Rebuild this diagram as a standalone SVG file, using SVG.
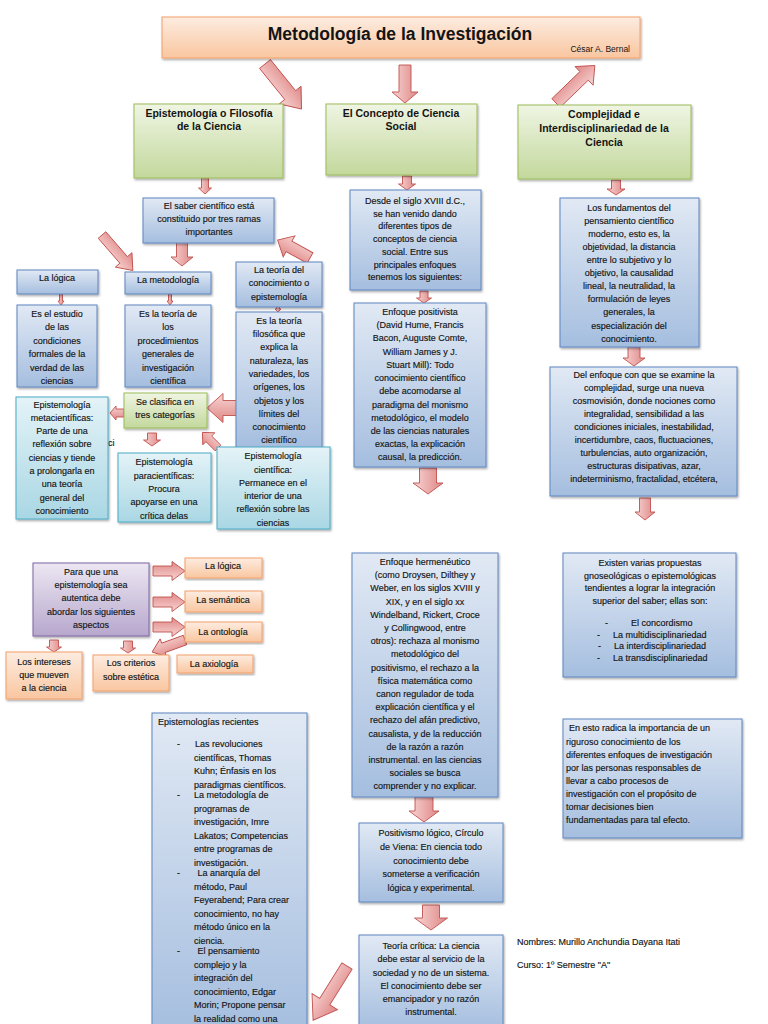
<svg xmlns="http://www.w3.org/2000/svg" width="768" height="1024" viewBox="0 0 768 1024">
<defs>
<linearGradient id="gBlue" x1="0" y1="0" x2="0" y2="1"><stop offset="0" stop-color="#e1e9f4"/><stop offset="1" stop-color="#a5bedf"/></linearGradient>
<linearGradient id="gGreen" x1="0" y1="0" x2="0" y2="1"><stop offset="0" stop-color="#eff5e3"/><stop offset="1" stop-color="#c3d89c"/></linearGradient>
<linearGradient id="gOrange" x1="0" y1="0" x2="0" y2="1"><stop offset="0" stop-color="#fdece0"/><stop offset="1" stop-color="#f9c6a0"/></linearGradient>
<linearGradient id="gAqua" x1="0" y1="0" x2="0" y2="1"><stop offset="0" stop-color="#e4f3f7"/><stop offset="1" stop-color="#a9d7e4"/></linearGradient>
<linearGradient id="gPurple" x1="0" y1="0" x2="0" y2="1"><stop offset="0" stop-color="#ece7f2"/><stop offset="1" stop-color="#b7a7cd"/></linearGradient>
<linearGradient id="gArr" x1="0" y1="0" x2="1" y2="0"><stop offset="0" stop-color="#f7d5d4"/><stop offset="1" stop-color="#df8785"/></linearGradient>
<filter id="sh" x="-10%" y="-10%" width="125%" height="125%"><feDropShadow dx="1" dy="1.5" stdDeviation="0.8" flood-color="#000" flood-opacity="0.35"/></filter>
</defs>
<style>
text{font-family:"Liberation Sans",Arial,sans-serif;font-size:9px;fill:#141414;stroke:#141414;stroke-width:0.15}
.c{text-anchor:middle}
.b{font-weight:bold;stroke-width:0}
.blue{fill:url(#gBlue);stroke:#5f86bf;stroke-width:1;filter:url(#sh)}
.green{fill:url(#gGreen);stroke:#9bbb59;stroke-width:1;filter:url(#sh)}
.orange{fill:url(#gOrange);stroke:#f4a06a;stroke-width:1;filter:url(#sh)}
.aqua{fill:url(#gAqua);stroke:#4bacc6;stroke-width:1;filter:url(#sh)}
.purple{fill:url(#gPurple);stroke:#8064a2;stroke-width:1;filter:url(#sh)}
.arr{fill:url(#gArr);stroke:#c0504d;stroke-width:0.9;stroke-linejoin:miter}
</style>
<rect width="768" height="1024" fill="#ffffff"/>

<g id="connectors">
<polygon class="arr" transform="translate(265,64) rotate(-39)" points="-7,0 7,0 7,40 14,40 0,58 -14,40 -7,40"/>
<polygon class="arr" transform="translate(405,65)" points="-6,0 6,0 6,27 13,27 0,38 -13,27 -6,27"/>
<polygon class="arr" transform="translate(556,103) rotate(-134)" points="-6,0 6,0 6,39 13,39 0,54 -13,39 -6,39"/>
<polygon class="arr" transform="translate(205,178)" points="-3.5,0 3.5,0 3.5,10 6.5,10 0,16 -6.5,10 -3.5,10"/>
<polygon class="arr" transform="translate(182,240)" points="-5.5,0 5.5,0 5.5,17 11,17 0,26 -11,17 -5.5,17"/>
<polygon class="arr" transform="translate(102,235) rotate(-41)" points="-5,0 5,0 5,33 11,33 0,47 -11,33 -5,33"/>
<polygon class="arr" transform="translate(310,258) rotate(119)" points="-6,0 6,0 6,24 12,24 0,37 -12,24 -6,24"/>
<polygon class="arr" transform="translate(61,294)" points="-1.5,0 1.5,0 1.5,7 3,7 0,11 -3,7 -1.5,7"/>
<polygon class="arr" transform="translate(170,294)" points="-1.5,0 1.5,0 1.5,7 3,7 0,11 -3,7 -1.5,7"/>
<polygon class="arr" transform="translate(278,306)" points="-1.5,0 1.5,0 1.5,3 3,3 0,6 -3,3 -1.5,3"/>
<polygon class="arr" transform="translate(238,408) rotate(90)" points="-7.5,0 7.5,0 7.5,15 14.5,15 0,31 -14.5,15 -7.5,15"/>
<polygon class="arr" transform="translate(124,413) rotate(90)" points="-4,0 4,0 4,8 7,8 0,14 -7,8 -4,8"/>
<polygon class="arr" transform="translate(152,433)" points="-4.5,0 4.5,0 4.5,7 8.5,7 0,13 -8.5,7 -4.5,7"/>
<polygon class="arr" transform="translate(218,448) rotate(135)" points="-4,0 4,0 4,13 8.5,13 0,22 -8.5,13 -4,13"/>
<polygon class="arr" transform="translate(407,176)" points="-4.5,0 4.5,0 4.5,8 8.5,8 0,14 -8.5,8 -4.5,8"/>
<polygon class="arr" transform="translate(424,291)" points="-4,0 4,0 4,7 7.5,7 0,12 -7.5,7 -4,7"/>
<polygon class="arr" transform="translate(428,468)" points="-8.5,0 8.5,0 8.5,15 15,15 0,26 -15,15 -8.5,15"/>
<polygon class="arr" transform="translate(424,797)" points="-9,0 9,0 9,14 15,14 0,25 -15,14 -9,14"/>
<polygon class="arr" transform="translate(431,905)" points="-8.5,0 8.5,0 8.5,13 16.5,13 0,25 -16.5,13 -8.5,13"/>
<polygon class="arr" transform="translate(347,966) rotate(32)" points="-6,0 6,0 6,42 15,42 0,64 -15,42 -6,42"/>
<polygon class="arr" transform="translate(616,180)" points="-4.5,0 4.5,0 4.5,9 9,9 0,15 -9,9 -4.5,9"/>
<polygon class="arr" transform="translate(634,347)" points="-6,0 6,0 6,11 11,11 0,19 -11,11 -6,11"/>
<polygon class="arr" transform="translate(645,498)" points="-5.5,0 5.5,0 5.5,14 10,14 0,22 -10,14 -5.5,14"/>
<polygon class="arr" transform="translate(153,571) rotate(-90)" points="-5,0 5,0 5,19 9.5,19 0,32 -9.5,19 -5,19"/>
<polygon class="arr" transform="translate(153,602) rotate(-90)" points="-5,0 5,0 5,19 9.5,19 0,32 -9.5,19 -5,19"/>
<polygon class="arr" transform="translate(153,627) rotate(-90)" points="-5,0 5,0 5,19 9.5,19 0,32 -9.5,19 -5,19"/>
<polygon class="arr" transform="translate(185,640) rotate(70)" points="-5,0 5,0 5,23 9.5,23 0,35 -9.5,23 -5,23"/>
<polygon class="arr" transform="translate(54,640)" points="-4.5,0 4.5,0 4.5,7 7.5,7 0,12 -7.5,7 -4.5,7"/>
<polygon class="arr" transform="translate(128,641)" points="-4.5,0 4.5,0 4.5,7 7.5,7 0,12 -7.5,7 -4.5,7"/>
</g>

<g id="n-title">
<rect x="162" y="17" width="478" height="41" class="orange"/>
<text x="400" y="40" class="c b" style="font-size:17.5px">Metodología de la Investigación</text>
<text x="630" y="52" style="font-size:8.5px;text-anchor:end;stroke-width:0">César A. Bernal</text>
</g>

<g id="n-epistemologia">
<rect x="134" y="104" width="149" height="74" class="green"/>
<text class="c b" style="font-size:10.5px"><tspan x="209" y="117">Epistemología o Filosofía</tspan><tspan x="209" y="130">de la Ciencia</tspan></text>
</g>
<g id="n-concepto">
<rect x="326" y="104" width="151" height="71" class="green"/>
<text class="c b" style="font-size:10.5px"><tspan x="401" y="117">El Concepto de Ciencia</tspan><tspan x="401" y="130">Social</tspan></text>
</g>
<g id="n-complejidad">
<rect x="518" y="105" width="173" height="74" class="green"/>
<text class="c b" style="font-size:10.5px"><tspan x="604" y="118">Complejidad e</tspan><tspan x="604" y="132">Interdisciplinariedad de la</tspan><tspan x="604" y="146">Ciencia</tspan></text>
</g>

<g id="n-saber">
<rect x="143" y="198" width="131" height="45" class="blue"/>
<text class="c"><tspan x="209" y="209">El saber científico está</tspan><tspan x="209" y="222">constituido por tres ramas</tspan><tspan x="209" y="235">importantes</tspan></text>
</g>
<g id="n-logica1">
<rect x="17" y="270" width="81" height="24" class="blue"/>
<text class="c" x="57" y="281">La lógica</text>
</g>
<g id="n-metodologia">
<rect x="125" y="272" width="86" height="22" class="blue"/>
<text class="c" x="168" y="283">La metodología</text>
</g>
<g id="n-teoria">
<rect x="236" y="262" width="86" height="45" class="blue"/>
<text class="c"><tspan x="279" y="273">La teoría del</tspan><tspan x="279" y="286">conocimiento o</tspan><tspan x="279" y="300">epistemología</tspan></text>
</g>
<g id="n-estudio">
<rect x="17" y="305" width="80" height="82" class="blue"/>
<text class="c"><tspan x="57" y="317">Es el estudio</tspan><tspan x="57" y="330">de las</tspan><tspan x="57" y="344">condiciones</tspan><tspan x="57" y="357">formales de la</tspan><tspan x="57" y="371">verdad de las</tspan><tspan x="57" y="384">ciencias</tspan></text>
</g>
<g id="n-procedimientos">
<rect x="125" y="305" width="86" height="82" class="blue"/>
<text class="c"><tspan x="168" y="317">Es la teoría de</tspan><tspan x="168" y="330">los</tspan><tspan x="168" y="344">procedimientos</tspan><tspan x="168" y="357">generales de</tspan><tspan x="168" y="371">investigación</tspan><tspan x="168" y="384">científica</tspan></text>
</g>
<g id="n-filosofica">
<rect x="236" y="312" width="86" height="136" class="blue"/>
<text class="c"><tspan x="279" y="324">Es la teoría</tspan><tspan x="279" y="337">filosófica que</tspan><tspan x="279" y="350">explica la</tspan><tspan x="279" y="364">naturaleza, las</tspan><tspan x="279" y="377">variedades, los</tspan><tspan x="279" y="390">orígenes, los</tspan><tspan x="279" y="404">objetos y los</tspan><tspan x="279" y="417">límites del</tspan><tspan x="279" y="430">conocimiento</tspan><tspan x="279" y="443">científico</tspan></text>
</g>
<g id="n-clasifica">
<rect x="124" y="393" width="83" height="35" class="green"/>
<text class="c"><tspan x="165" y="405">Se clasifica en</tspan><tspan x="165" y="418">tres categorías</tspan></text>
</g>
<text x="108" y="446">ci</text>
<g id="n-meta">
<rect x="16" y="397" width="92" height="122" class="aqua"/>
<text class="c"><tspan x="62" y="408">Epistemología</tspan><tspan x="62" y="421">metacientíficas:</tspan><tspan x="62" y="434">Parte de una</tspan><tspan x="62" y="447">reflexión sobre</tspan><tspan x="62" y="461">ciencias y tiende</tspan><tspan x="62" y="474">a prolongarla en</tspan><tspan x="62" y="487">una teoría</tspan><tspan x="62" y="501">general del</tspan><tspan x="62" y="514">conocimiento</tspan></text>
</g>
<g id="n-para">
<rect x="118" y="453" width="93" height="69" class="aqua"/>
<text class="c"><tspan x="164" y="465">Epistemología</tspan><tspan x="164" y="479">paracientíficas:</tspan><tspan x="164" y="492">Procura</tspan><tspan x="164" y="505">apoyarse en una</tspan><tspan x="164" y="519">crítica delas</tspan></text>
</g>
<g id="n-cientifica">
<rect x="217" y="447" width="113" height="82" class="aqua"/>
<text class="c"><tspan x="273" y="459">Epistemología</tspan><tspan x="273" y="473">científica:</tspan><tspan x="273" y="486">Permanece en el</tspan><tspan x="273" y="499">interior de una</tspan><tspan x="273" y="512">reflexión sobre las</tspan><tspan x="273" y="526">ciencias</tspan></text>
</g>

<g id="n-desde">
<rect x="350" y="190" width="131" height="100" class="blue"/>
<text class="c"><tspan x="415" y="204">Desde el siglo XVIII d.C.,</tspan><tspan x="415" y="217">se han venido dando</tspan><tspan x="415" y="229">diferentes tipos de</tspan><tspan x="415" y="242">conceptos de ciencia</tspan><tspan x="415" y="255">social. Entre sus</tspan><tspan x="415" y="268">principales enfoques</tspan><tspan x="415" y="280">tenemos los siguientes:</tspan></text>
</g>
<g id="n-positivista">
<rect x="354" y="303" width="132" height="164" class="blue"/>
<text class="c"><tspan x="420" y="315">Enfoque positivista</tspan><tspan x="420" y="328">(David Hume, Francis</tspan><tspan x="420" y="341">Bacon, Auguste Comte,</tspan><tspan x="420" y="355">William James y J.</tspan><tspan x="420" y="368">Stuart Mill): Todo</tspan><tspan x="420" y="381">conocimiento científico</tspan><tspan x="420" y="394">debe acomodarse al</tspan><tspan x="420" y="408">paradigma del monismo</tspan><tspan x="420" y="421">metodológico, el modelo</tspan><tspan x="420" y="434">de las ciencias naturales</tspan><tspan x="420" y="447">exactas, la explicación</tspan><tspan x="420" y="460">causal, la predicción.</tspan></text>
</g>
<g id="n-hermeneutico">
<rect x="352" y="553" width="146" height="244" class="blue"/>
<text class="c"><tspan x="425" y="565">Enfoque hermenéutico</tspan><tspan x="425" y="578">(como Droysen, Dilthey y</tspan><tspan x="425" y="591">Weber, en los siglos XVIII y</tspan><tspan x="425" y="605">XIX, y en el siglo xx</tspan><tspan x="425" y="618">Windelband, Rickert, Croce</tspan><tspan x="425" y="631">y Collingwood, entre</tspan><tspan x="425" y="644">otros): rechaza al monismo</tspan><tspan x="425" y="657">metodológico del</tspan><tspan x="425" y="671">positivismo, el rechazo a la</tspan><tspan x="425" y="684">física matemática como</tspan><tspan x="425" y="697">canon regulador de toda</tspan><tspan x="425" y="710">explicación científica y el</tspan><tspan x="425" y="723">rechazo del afán predictivo,</tspan><tspan x="425" y="737">causalista, y de la reducción</tspan><tspan x="425" y="750">de la razón a razón</tspan><tspan x="425" y="763">instrumental. en las ciencias</tspan><tspan x="425" y="776">sociales se busca</tspan><tspan x="425" y="789">comprender y no explicar.</tspan></text>
</g>
<g id="n-positivismo-logico">
<rect x="359" y="823" width="144" height="79" class="blue"/>
<text class="c"><tspan x="431" y="836">Positivismo lógico, Círculo</tspan><tspan x="431" y="850">de Viena: En ciencia todo</tspan><tspan x="431" y="864">conocimiento debe</tspan><tspan x="431" y="877">someterse a verificación</tspan><tspan x="431" y="891">lógica y experimental.</tspan></text>
</g>
<g id="n-teoria-critica">
<rect x="359" y="935" width="144" height="95" class="blue"/>
<text class="c"><tspan x="431" y="949">Teoría crítica: La ciencia</tspan><tspan x="431" y="962">debe estar al servicio de la</tspan><tspan x="431" y="976">sociedad y no de un sistema.</tspan><tspan x="431" y="989">El conocimiento debe ser</tspan><tspan x="431" y="1002">emancipador y no razón</tspan><tspan x="431" y="1015">instrumental.</tspan></text>
</g>

<g id="n-fundamentos">
<rect x="560" y="198" width="139" height="149" class="blue"/>
<text class="c"><tspan x="629" y="211">Los fundamentos del</tspan><tspan x="629" y="224">pensamiento científico</tspan><tspan x="629" y="237">moderno, esto es, la</tspan><tspan x="629" y="250">objetividad, la distancia</tspan><tspan x="629" y="263">entre lo subjetivo y lo</tspan><tspan x="629" y="276">objetivo, la causalidad</tspan><tspan x="629" y="289">lineal, la neutralidad, la</tspan><tspan x="629" y="302">formulación de leyes</tspan><tspan x="629" y="315">generales, la</tspan><tspan x="629" y="329">especialización del</tspan><tspan x="629" y="342">conocimiento.</tspan></text>
</g>
<g id="n-enfoque-complejidad">
<rect x="550" y="367" width="187" height="129" class="blue"/>
<text class="c"><tspan x="644" y="378">Del enfoque con que se examine la</tspan><tspan x="644" y="391">complejidad, surge una nueva</tspan><tspan x="644" y="404">cosmovisión, donde nociones como</tspan><tspan x="644" y="417">integralidad, sensibilidad a las</tspan><tspan x="644" y="430">condiciones iniciales, inestabilidad,</tspan><tspan x="644" y="443">incertidumbre, caos, fluctuaciones,</tspan><tspan x="644" y="456">turbulencias, auto organización,</tspan><tspan x="644" y="469">estructuras disipativas, azar,</tspan><tspan x="644" y="482">indeterminismo, fractalidad, etcétera,</tspan></text>
</g>
<g id="n-existen">
<rect x="563" y="553" width="173" height="124" class="blue"/>
<text class="c"><tspan x="650" y="566">Existen varias propuestas</tspan><tspan x="650" y="579">gnoseológicas o epistemológicas</tspan><tspan x="650" y="591">tendientes a lograr la integración</tspan><tspan x="650" y="604">superior del saber; ellas son:</tspan></text>
<text x="605" y="626">-</text><text x="631" y="626">El concordismo</text>
<text x="597" y="638">-</text><text x="613" y="638">La multidisciplinariedad</text>
<text x="598" y="649">-</text><text x="614" y="649">La interdisciplinariedad</text>
<text x="597" y="661">-</text><text x="613" y="661">La transdisciplinariedad</text>
</g>
<g id="n-radica">
<rect x="563" y="719" width="179" height="119" class="blue"/>
<text><tspan x="569" y="731"> En esto radica la importancia de un</tspan><tspan x="566" y="745">riguroso conocimiento de los</tspan><tspan x="566" y="758">diferentes enfoques de investigación</tspan><tspan x="566" y="771">por las personas responsables de</tspan><tspan x="566" y="784">llevar a cabo procesos de</tspan><tspan x="566" y="797">investigación con el propósito de</tspan><tspan x="566" y="810">tomar decisiones bien</tspan><tspan x="566" y="823">fundamentadas para tal efecto.</tspan></text>
</g>

<g id="n-para-que">
<rect x="33" y="563" width="116" height="73" class="purple"/>
<text class="c"><tspan x="91" y="575">Para que una</tspan><tspan x="91" y="588">epistemología sea</tspan><tspan x="91" y="601">autentica debe</tspan><tspan x="91" y="615">abordar los siguientes</tspan><tspan x="91" y="628">aspectos</tspan></text>
</g>
<g id="n-logica2">
<rect x="185" y="558" width="77" height="20" class="orange"/>
<text class="c" x="223" y="569">La lógica</text>
</g>
<g id="n-semantica">
<rect x="185" y="591" width="77" height="21" class="orange"/>
<text class="c" x="223" y="603">La semántica</text>
</g>
<g id="n-ontologia">
<rect x="185" y="622" width="77" height="20" class="orange"/>
<text class="c" x="223" y="635">La ontología</text>
</g>
<g id="n-axiologia">
<rect x="177" y="655" width="76" height="18" class="orange"/>
<text class="c" x="214" y="667">La axiología</text>
</g>
<g id="n-criterios">
<rect x="93" y="655" width="76" height="36" class="orange"/>
<text class="c"><tspan x="131" y="666">Los criterios</tspan><tspan x="131" y="680">sobre estética</tspan></text>
</g>
<g id="n-intereses">
<rect x="6" y="652" width="76" height="47" class="orange"/>
<text class="c"><tspan x="44" y="665">Los intereses</tspan><tspan x="44" y="678">que mueven</tspan><tspan x="44" y="691">a la ciencia</tspan></text>
</g>

<g id="n-recientes">
<rect x="152" y="713" width="155" height="320" class="blue"/>
<text x="158" y="725">Epistemologías recientes</text>
<text x="177" y="747">-</text><text x="177" y="798">-</text><text x="177" y="876">-</text><text x="177" y="954">-</text>
<text><tspan x="195" y="747"> Las revoluciones</tspan><tspan x="194" y="761">científicas, Thomas</tspan><tspan x="194" y="774">Kuhn; Énfasis en los</tspan><tspan x="194" y="788">paradigmas científicos.</tspan><tspan x="194" y="798">La metodología de</tspan><tspan x="194" y="812">programas de</tspan><tspan x="194" y="825">investigación, Imre</tspan><tspan x="194" y="839">Lakatos; Competencias</tspan><tspan x="194" y="852">entre programas de</tspan><tspan x="194" y="866">investigación.</tspan><tspan x="195" y="876"> La anarquía del</tspan><tspan x="194" y="890">método, Paul</tspan><tspan x="194" y="903">Feyerabend; Para crear</tspan><tspan x="194" y="917">conocimiento, no hay</tspan><tspan x="194" y="930">método único en la</tspan><tspan x="194" y="944">ciencia.</tspan><tspan x="195" y="954"> El pensamiento</tspan><tspan x="194" y="968">complejo y la</tspan><tspan x="194" y="981">integración del</tspan><tspan x="194" y="995">conocimiento, Edgar</tspan><tspan x="194" y="1008">Morin; Propone pensar</tspan><tspan x="194" y="1022">la realidad como una</tspan></text>
</g>

<g id="n-nombres">
<text x="517" y="945">Nombres: Murillo Anchundia Dayana Itati</text>
<text x="517" y="968">Curso: 1º Semestre "A"</text>
</g>
</svg>
